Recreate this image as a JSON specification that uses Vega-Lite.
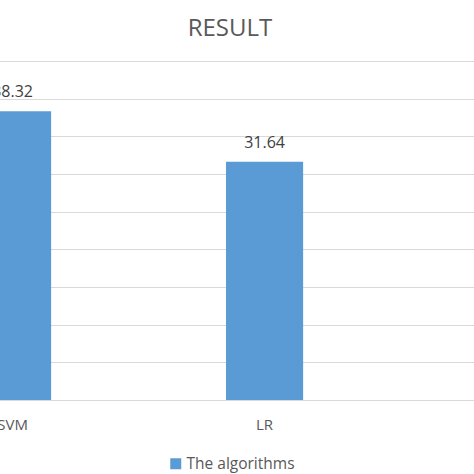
{
  "$schema": "https://vega.github.io/schema/vega-lite/v6.json",
  "autosize": "none",
  "width": 474,
  "height": 339,
  "padding": {"top": 61, "left": 0, "right": 0, "bottom": 74},
  "background": "white",
  "config": {"view": {"stroke": null}, "font": "Open Sans"},
  "title": {"text": "RESULT", "fontSize": 24, "font": "Open Sans", "fontWeight": "normal", "color": "#595959", "anchor": "middle", "dx": -7, "offset": 20},
  "data": {"values": [
    {"algorithm": "SVM", "value": 38.32, "series": "The algorithms"},
    {"algorithm": "LR", "value": 31.64, "series": "The algorithms"}
  ]},
  "encoding": {
    "x": {"field": "algorithm", "type": "nominal", "sort": null,
      "scale": {"domain": ["SVM", "LR"], "range": [-113.5, 642.5], "paddingInner": 0.694, "paddingOuter": 0.847, "align": 0.205},
      "axis": {"title": null, "labelAngle": 0, "labelFontSize": 15, "labelColor": "#595959", "labelPadding": 17, "ticks": false, "domain": true, "domainColor": "#D9D9D9", "grid": false}},
    "y": {"field": "value", "type": "quantitative",
      "scale": {"domain": [0, 45], "nice": false},
      "axis": {"title": null, "labels": false, "ticks": false, "domain": false, "grid": true, "gridColor": "#D9D9D9", "gridWidth": 1, "values": [0, 5, 10, 15, 20, 25, 30, 35, 40, 45]}}
  },
  "layer": [
    {"mark": {"type": "bar"},
     "encoding": {"color": {"field": "series", "type": "nominal", "scale": {"range": ["#5B9BD5"]},
       "legend": {"title": null, "orient": "none", "legendX": 168, "legendY": 395, "direction": "horizontal", "symbolType": "square", "symbolSize": 121, "symbolStrokeWidth": 0, "labelOffset": 3, "labelFontSize": 15.5, "labelColor": "#595959", "labelFont": "Open Sans"}}}},
    {"mark": {"type": "text", "baseline": "bottom", "dy": -11, "fontSize": 16, "color": "#404040"},
     "encoding": {"text": {"field": "value", "type": "quantitative", "format": ".2f"}}}
  ]
}
